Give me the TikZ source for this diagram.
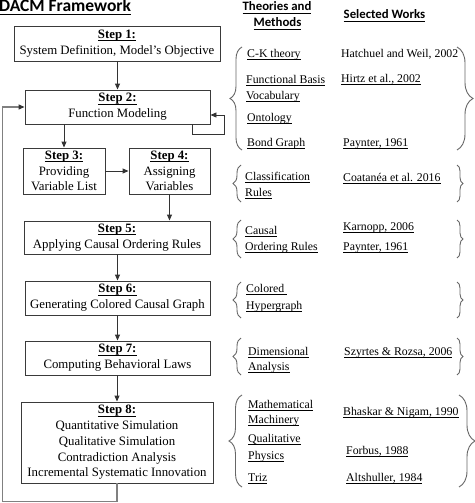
\documentclass[tikz,border=0pt]{standalone}
\usepackage{fontspec}
\setmainfont{Liberation Serif}
\newfontfamily\hfont{Carlito}
\usetikzlibrary{decorations.pathreplacing,arrows.meta,calc}
\definecolor{boxc}{HTML}{3A3A3A}
\definecolor{linec}{HTML}{333333}
\definecolor{bracec}{HTML}{666666}
\definecolor{fbc}{HTML}{808080}
\newcommand\ulz[1]{\leavevmode\setbox0\hbox{#1}\rlap{\raisebox{-2.6pt}{\rule{\wd0}{0.7pt}}}\box0}
\begin{document}
\begin{tikzpicture}[x=1pt,y=-1pt,
  box/.style={draw=boxc,line width=0.9pt,inner sep=0pt,align=center,font=\fontsize{12.8}{15.8}\selectfont},
  arr/.style={draw=linec,line width=0.9pt,-{Triangle[length=6pt,width=5pt]}},
  fb/.style={draw=fbc,line width=1.2pt,-{Triangle[length=6pt,width=5pt,color=linec]}},
  ref/.style={anchor=base west,inner sep=0pt,font=\fontsize{11.8}{14}\selectfont},
  hd/.style={inner sep=0pt,anchor=base,font=\hfont\bfseries\fontsize{12.8}{14}\selectfont},
  brc/.style={draw=bracec,line width=0.9pt,decorate,decoration={brace,amplitude=#1}}]
\useasboundingbox (0,0) rectangle (474,503);

% headings
\node[inner sep=0pt,anchor=base west,font=\hfont\bfseries\fontsize{17.5}{19}\selectfont] (title) at (-1,12) {\ulz{DACM Framework}};
\node[hd] (th1) at (277,11) {\ulz{Theories and}};
\node[hd] (th2) at (277.5,27) {\ulz{Methods}};
\node[hd] (sw) at (384.5,19) {\ulz{Selected Works}};

% step boxes
\node[box,minimum width=206pt,minimum height=35pt] (s1) at (117,43.5) {\ulz{\textbf{Step 1:}}\\System Definition, Model’s Objective};
\node[box,minimum width=185pt,minimum height=34pt] (s2) at (117.5,107) {\ulz{\textbf{Step 2:}}\\Function Modeling};
\node[box,minimum width=82pt,minimum height=46pt] (s3) at (64,171) {\ulz{\textbf{Step 3:}}\\Providing\\Variable List};
\node[box,minimum width=81pt,minimum height=46pt] (s4) at (169.5,171) {\ulz{\textbf{Step 4:}}\\Assigning\\Variables};
\node[box,minimum width=186pt,minimum height=33pt] (s5) at (117,237.5) {\ulz{\textbf{Step 5:}}\\Applying Causal Ordering Rules};
\node[box,minimum width=185pt,minimum height=34pt] (s6) at (117.5,298) {\ulz{\textbf{Step 6:}}\\Generating Colored Causal Graph};
\node[box,minimum width=185pt,minimum height=34pt] (s7) at (117.5,358) {\ulz{\textbf{Step 7:}}\\Computing Behavioral Laws};
\node[box,minimum width=192pt,minimum height=81pt] (s8) at (117,442.5) {\ulz{\textbf{Step 8:}}\\Quantitative Simulation\\Qualitative Simulation\\Contradiction Analysis\\Incremental Systematic Innovation};

% connectors
\draw[arr] (s1.south -| s2.north) -- (s2.north);
\draw[arr] (s2.south -| s3.north) -- (s3.north);
\draw[arr] (s3.east) -- (s4.west);
\draw[arr] (s4.south) -- (s4.south |- s5.north);
\draw[arr] (s5.south -| s6.north) -- (s6.north);
\draw[arr] (s6.south) -- (s7.north);
\draw[arr] (s7.south -| s8.north) -- (s8.north);
\draw[arr] ([xshift=-18pt]s2.south east) -- ++(0,10) -| ([xshift=14pt,yshift=-8pt]s2.east) -- ([yshift=-8pt]s2.east);
\draw[fb] (s8.south) -- ++(0,18) -| ([xshift=-22pt]s2.west) -- (s2.west);

% braces
\draw[brc=12] (242,150) -- (242,47);
\draw[brc=16] (457,47) -- (457,150);
\draw[brc=8] (241,202) -- (241,165);
\draw[brc=6] (457,165) -- (457,202);
\draw[brc=8] (241,258) -- (241,220);
\draw[brc=6] (457,220) -- (457,258);
\draw[brc=8] (241,318) -- (241,282);
\draw[brc=6] (457,282) -- (457,318);
\draw[brc=8] (241,375) -- (241,338);
\draw[brc=6] (457,338) -- (457,375);
\draw[brc=13] (242,487) -- (242,395);
\draw[brc=16] (459,395) -- (459,487);

% theories and works
\node[ref] (ck) at (247,57.5) {\ulz{C-K theory}};
\node[ref] (hw) at (341,57.5) {Hatchuel and Weil, 2002};
\node[ref] (fb1) at (246,83.5) {\ulz{Functional Basis}};
\node[ref] (hz) at (341,82.5) {\ulz{Hirtz et al., 2002}};
\node[ref] (fb2) at (246,99.5) {\ulz{Vocabulary}};
\node[ref] (on) at (247,121.5) {\ulz{Ontology}};
\node[ref] (bg) at (247,146.5) {\ulz{Bond Graph}};
\node[ref] (py1) at (343,146.5) {\ulz{Paynter, 1961}};
\node[ref] (cl1) at (245,180.5) {\ulz{Classification}};
\node[ref] (cl2) at (245,196.5) {\ulz{Rules}};
\node[ref] (co) at (343,181.5) {\ulz{Coatanéa et al. 2016}};
\node[ref] (ca1) at (245,234.5) {\ulz{Causal}};
\node[ref] (ca2) at (245,250.5) {\ulz{Ordering Rules}};
\node[ref] (ka) at (343,230.5) {\ulz{Karnopp, 2006}};
\node[ref] (py2) at (343,250.5) {\ulz{Paynter, 1961}};
\node[ref] (cg1) at (246,292.5) {\ulz{Colored\ }};
\node[ref] (cg2) at (246,309.5) {\ulz{Hypergraph}};
\node[ref] (da1) at (248,355.5) {\ulz{Dimensional}};
\node[ref] (da2) at (248,370.5) {\ulz{Analysis}};
\node[ref] (sz) at (344,355.5) {\ulz{Szyrtes \& Rozsa, 2006}};
\node[ref] (mm1) at (248,408.5) {\ulz{Mathematical}};
\node[ref] (mm2) at (248,423.5) {\ulz{Machinery}};
\node[ref] (bn) at (343,415.5) {\ulz{Bhaskar \& Nigam, 1990}};
\node[ref] (qp1) at (248,442.5) {\ulz{Qualitative}};
\node[ref] (qp2) at (248,459.5) {\ulz{Physics}};
\node[ref] (fo) at (346,454.5) {\ulz{Forbus, 1988}};
\node[ref] (tr) at (248,481.5) {\ulz{Triz}};
\node[ref] (al) at (346,481.5) {\ulz{Altshuller, 1984}};
\end{tikzpicture}
\end{document}
